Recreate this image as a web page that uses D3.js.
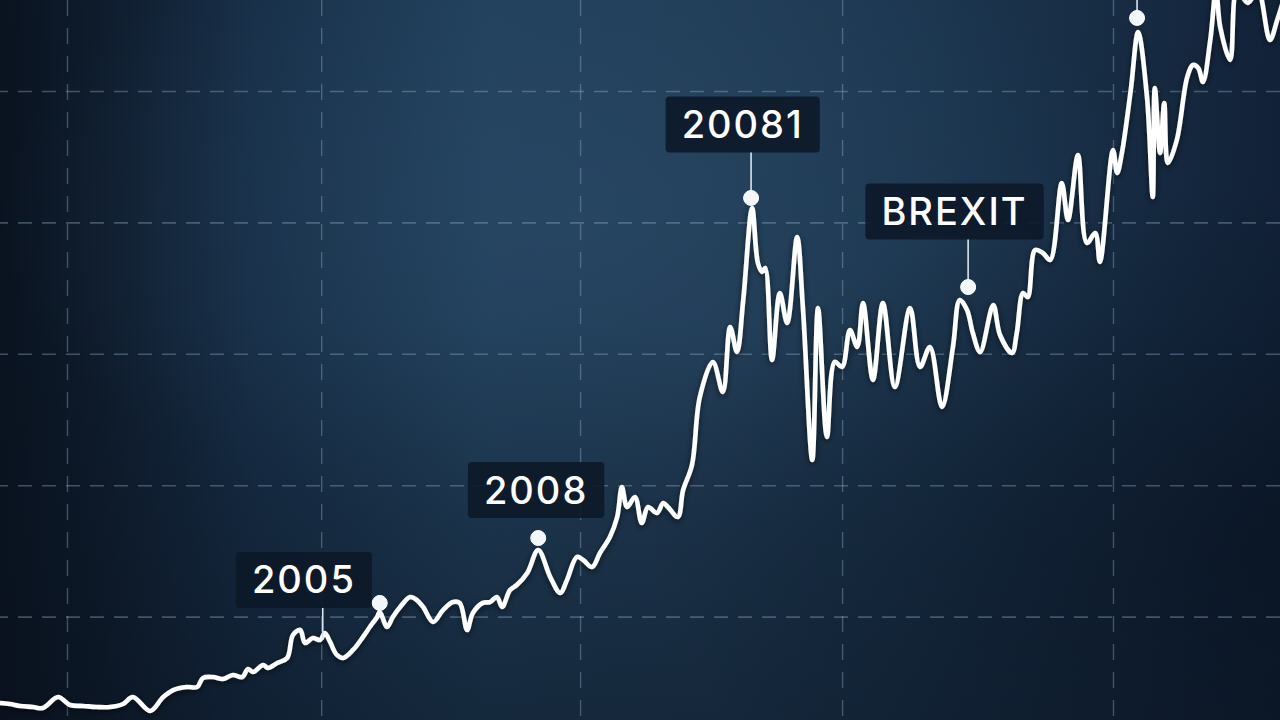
<!DOCTYPE html>
<html>
<head>
<meta charset="utf-8">
<script src="https://cdn.jsdelivr.net/npm/d3@7"></script>
<style>
  html, body { margin: 0; padding: 0; background: #10213a; overflow: hidden; }
  svg { display: block; }
</style>
</head>
<body>
<svg id="chart" width="1280" height="720"></svg>
<script>
// ---------- DATA ----------
const years = [
  1998.72, 1998.91, 1999.10, 1999.35, 1999.54, 1999.83, 2000.06, 2000.31, 2000.57, 2000.82,
  2001.07, 2001.26, 2001.59, 2001.84, 2002.03, 2002.29, 2002.49, 2002.60, 2002.79, 2002.98,
  2003.17, 2003.35, 2003.46, 2003.56, 2003.75, 2003.84, 2004.02, 2004.21, 2004.32, 2004.46,
  2004.55, 2004.70, 2004.84, 2004.93, 2005.03, 2005.16, 2005.28, 2005.47, 2005.66, 2005.79,
  2005.93, 2005.98, 2006.12, 2006.23, 2006.37, 2006.56, 2006.69, 2006.81, 2007.00, 2007.19,
  2007.38, 2007.51, 2007.65, 2007.76, 2007.95, 2008.09, 2008.22, 2008.32, 2008.47, 2008.60,
  2008.80, 2009.01, 2009.24, 2009.43, 2009.56, 2009.75, 2009.87, 2010.04, 2010.19, 2010.38,
  2010.52, 2010.61, 2010.71, 2010.86, 2010.99, 2011.11, 2011.28, 2011.40, 2011.49, 2011.68,
  2011.78, 2011.95, 2012.10, 2012.35, 2012.54, 2012.68, 2012.81, 2012.93, 2013.10, 2013.21,
  2013.29, 2013.35, 2013.48, 2013.63, 2013.77, 2013.96, 2014.07, 2014.25, 2014.36, 2014.53,
  2014.68, 2014.82, 2014.97, 2015.11, 2015.22, 2015.41, 2015.60, 2015.83, 2016.12, 2016.31,
  2016.50, 2016.73, 2016.94, 2017.07, 2017.21, 2017.32, 2017.46, 2017.71, 2017.84, 2018.07,
  2018.16, 2018.28, 2018.37, 2018.51, 2018.66, 2018.80, 2019.02, 2019.14, 2019.33, 2019.50,
  2019.66, 2019.75, 2020.00, 2020.08, 2020.17, 2020.34, 2020.48, 2020.65, 2020.76, 2020.80,
  2020.90, 2020.98, 2021.05, 2021.22, 2021.42, 2021.53, 2021.63, 2021.72, 2021.86, 2021.97,
  2022.05, 2022.24, 2022.37, 2022.58, 2022.77, 2023.00, 2023.14, 2023.29
];
const values = [
  34.2, 33.5, 32.0, 31.2, 30.4, 38.8, 32.7, 32.0, 31.2, 31.2,
  33.5, 38.8, 28.2, 38.8, 44.1, 46.4, 46.4, 53.3, 54.0, 52.5,
  55.6, 54.0, 60.1, 57.8, 63.2, 60.9, 64.7, 68.5, 86.0, 89.8,
  79.9, 83.7, 82.2, 87.5, 80.7, 70.8, 68.5, 74.6, 84.5, 92.1,
  99.7, 103.5, 92.1, 99.7, 107.3, 114.9, 112.6, 107.3, 95.9, 105.0,
  111.1, 110.4, 89.8, 102.7, 110.4, 111.1, 114.9, 107.3, 120.2, 124.0,
  133.2, 150.7, 130.1, 118.0, 127.9, 145.4, 143.1, 137.7, 148.4, 160.6,
  175.8, 198.6, 183.4, 191.0, 171.2, 183.4, 178.8, 186.5, 183.4, 175.8,
  196.3, 215.4, 267.1, 293.8, 270.9, 320.4, 301.4, 340.9, 411.0, 369.1,
  362.3, 365.3, 295.3, 346.3, 323.4, 388.9, 335.6, 219.2, 334.9, 236.7,
  293.8, 290.0, 318.1, 305.2, 338.7, 280.1, 338.7, 274.7, 334.9, 290.0,
  305.2, 259.5, 305.2, 340.9, 333.3, 315.8, 301.4, 337.1, 314.3, 300.6,
  315.8, 346.3, 343.2, 379.0, 376.7, 371.4, 430.0, 401.8, 451.3, 384.3,
  391.9, 369.9, 455.1, 437.6, 452.8, 500.8, 544.9, 495.4, 419.3, 502.3,
  452.8, 490.9, 445.2, 462.7, 510.7, 519.8, 517.5, 506.8, 538.8, 576.9,
  548.7, 523.6, 576.9, 567.0, 576.9, 538.8, 554.0, 573.1
];

// grid tick values
const yGridValues = [100, 200, 300, 400, 500];
const xGridYears = [2000, 2004.86, 2009.81, 2014.82, 2020];

// annotations (label text, label centre in data units, leader end)
const annLabels     = ["2005", "2008", "20081", "BREXIT"];
const annLabelYear  = [2004.53, 2008.97, 2012.92, 2016.97];
const annLabelValue = [127.9, 196.3, 474.5, 408.3];
const annLeaderYear = [2004.89, null, 2013.08, 2017.23];
const annLeaderEnd  = [82.2, null, 418.6, 350.8];

const markerYears  = [2005.98, 2009.01, 2013.08, 2017.23, 2020.46];
const markerValues = [110.4, 159.8, 418.6, 350.8, 555.6];

// ---------- CHART ----------
const W = 1280, H = 720;
const svg = d3.select("#chart");
const defs = svg.append("defs");

// Background gradients
const bgH = defs.append("linearGradient").attr("id", "bgH")
  .attr("x1", "0").attr("y1", "0").attr("x2", "1").attr("y2", "0");
[[0, "#0a1320"], [0.08, "#0f1d2e"], [0.2, "#18304a"], [0.38, "#22425e"],
 [0.55, "#223f5a"], [0.72, "#1d3852"], [0.88, "#172d45"], [1, "#12233a"]]
  .forEach(([o, c]) => bgH.append("stop").attr("offset", o).attr("stop-color", c));

const bgV = defs.append("linearGradient").attr("id", "bgV")
  .attr("x1", "0").attr("y1", "0").attr("x2", "0").attr("y2", "1");
[[0, "rgba(8,16,28,0.05)"], [0.45, "rgba(8,16,28,0.1)"], [1, "rgba(8,16,28,0.5)"]]
  .forEach(([o, c]) => bgV.append("stop").attr("offset", o).attr("stop-color", c));

const bgR = defs.append("radialGradient").attr("id", "bgR")
  .attr("cx", "0.45").attr("cy", "0.3").attr("r", "0.45");
[[0, "rgba(60,100,135,0.28)"], [1, "rgba(60,100,135,0)"]]
  .forEach(([o, c]) => bgR.append("stop").attr("offset", o).attr("stop-color", c));

const bgR2 = defs.append("radialGradient").attr("id", "bgR2")
  .attr("cx", "1").attr("cy", "0.75").attr("r", "0.5");
[[0, "rgba(6,14,26,0.45)"], [1, "rgba(6,14,26,0)"]]
  .forEach(([o, c]) => bgR2.append("stop").attr("offset", o).attr("stop-color", c));

svg.append("rect").attr("width", W).attr("height", H).attr("fill", "url(#bgH)");
svg.append("rect").attr("width", W).attr("height", H).attr("fill", "url(#bgR)");
svg.append("rect").attr("width", W).attr("height", H).attr("fill", "url(#bgV)");
svg.append("rect").attr("width", W).attr("height", H).attr("fill", "url(#bgR2)");

// line shadow filter
const f = defs.append("filter").attr("id", "shadow")
  .attr("x", "-10%").attr("y", "-10%").attr("width", "120%").attr("height", "120%");
f.append("feDropShadow").attr("dx", 0).attr("dy", 2).attr("stdDeviation", 3)
  .attr("flood-color", "#050c16").attr("flood-opacity", 0.6);

const x = d3.scaleLinear().domain([2000, 2020]).range([67, 1113]);
const y = d3.scaleLinear().domain([0, 500]).range([748, 91]);

// Grid via axes
const gridStroke = "rgba(150,180,205,0.38)";
const gy = svg.append("g").attr("class", "grid-y")
  .call(d3.axisLeft(y).tickValues(yGridValues).tickSize(-W).tickFormat(""))
  .attr("transform", `translate(${W},0)`);
gy.select(".domain").remove();
gy.selectAll(".tick line").attr("stroke", gridStroke).attr("stroke-width", 1.6)
  .attr("stroke-dasharray", "14 10");
gy.selectAll(".tick line").attr("x2", -W);

const gx = svg.append("g").attr("class", "grid-x")
  .call(d3.axisBottom(x).tickValues(xGridYears).tickSize(H).tickFormat(""));
gx.select(".domain").remove();
gx.selectAll(".tick line").attr("stroke", gridStroke).attr("stroke-width", 1.4)
  .attr("stroke-dasharray", "16 12");

// Data line
const data = years.map((yr, i) => ({ yr, v: values[i] }));
const line = d3.line().x(d => x(d.yr)).y(d => y(d.v)).curve(d3.curveCatmullRom.alpha(0.5));

svg.append("path").datum(data)
  .attr("d", line)
  .attr("fill", "none")
  .attr("stroke", "#ffffff")
  .attr("stroke-width", 4.6)
  .attr("stroke-linejoin", "round")
  .attr("stroke-linecap", "round")
  .attr("filter", "url(#shadow)");

// Annotations
const annG = svg.append("g");
const fontFamily = "Inter, 'Open Sans', 'Noto Sans', sans-serif";

annLabels.forEach((lab, i) => {
  const cx = x(annLabelYear[i]);
  const cy = y(annLabelValue[i]);
  const g = annG.append("g");
  const rect = g.append("rect");
  const t = g.append("text")
    .text(lab)
    .attr("x", cx)
    .attr("y", cy + 13.5)
    .attr("text-anchor", "middle")
    .attr("fill", "#ffffff")
    .attr("font-family", fontFamily)
    .attr("font-size", 38)
    .attr("font-weight", 500)
    .attr("letter-spacing", 2);
  const bb = t.node().getBBox();
  const bw = bb.width + 32, bh = 56;
  rect.attr("x", cx - bw / 2).attr("y", cy - bh / 2)
    .attr("width", bw).attr("height", bh)
    .attr("rx", 4)
    .attr("fill", "#0c1828").attr("fill-opacity", 0.9);
  if (annLeaderYear[i] !== null) {
    g.append("line")
      .attr("x1", x(annLeaderYear[i])).attr("x2", x(annLeaderYear[i]))
      .attr("y1", cy + bh / 2).attr("y2", y(annLeaderEnd[i]))
      .attr("stroke", "#d8e4ef").attr("stroke-width", 1.6);
  }
});

// leader for the top-right marker (label off canvas)
annG.append("line")
  .attr("x1", x(markerYears[4])).attr("x2", x(markerYears[4]))
  .attr("y1", 0).attr("y2", y(markerValues[4]))
  .attr("stroke", "#d8e4ef").attr("stroke-width", 1.6);

// markers
annG.selectAll("circle.marker")
  .data(markerYears.map((yr, i) => ({ yr, v: markerValues[i] })))
  .join("circle")
  .attr("class", "marker")
  .attr("cx", d => x(d.yr))
  .attr("cy", d => y(d.v))
  .attr("r", 7.5)
  .attr("fill", "#f4f7fa")
  .attr("stroke", "#ffffff")
  .attr("stroke-width", 1);
</script>
</body>
</html>
